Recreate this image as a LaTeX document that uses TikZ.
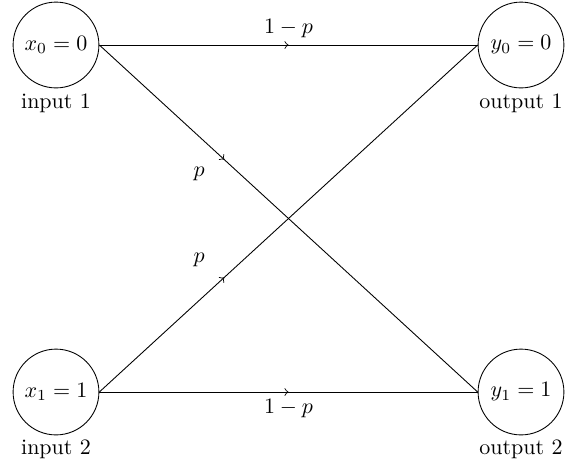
\documentclass[tikz,border=0pt]{standalone}
\usetikzlibrary{decorations.markings}
\begin{document}
\begin{tikzpicture}[x=0.4545pt,y=-0.4545pt,
  state/.style={circle,draw,minimum size=39pt,inner sep=0pt},
  chan/.style={postaction={decorate},decoration={markings,mark=at position #1 with {\arrow{>}}}}]
\useasboundingbox (0,0) rectangle (568,463);
\node[state] (x0) at (56,45) {$x_0=0$};
\node[state] (y0) at (521,45) {$y_0=0$};
\node[state] (x1) at (56,392) {$x_1=1$};
\node[state] (y1) at (521,392) {$y_1=1$};
\node (i1) at (56,103) {input 1};
\node (o1) at (521,103) {output 1};
\node (i2) at (56,449) {input 2};
\node (o2) at (521,449) {output 2};
\draw[chan=0.5] (x0.east) -- (y0.west) node[pos=0.5,yshift=7.7pt] {$1-p$};
\draw[chan=0.5] (x1.east) -- (y1.west) node[pos=0.5,yshift=-7.3pt] {$1-p$};
\draw[chan=0.33] (x0.east) -- (y1.west) node[pos=0.33,xshift=-11.4pt,yshift=-6.4pt] {$p$};
\draw[chan=0.33] (x1.east) -- (y0.west) node[pos=0.33,xshift=-11.4pt,yshift=8.2pt] {$p$};
\end{tikzpicture}
\end{document}
